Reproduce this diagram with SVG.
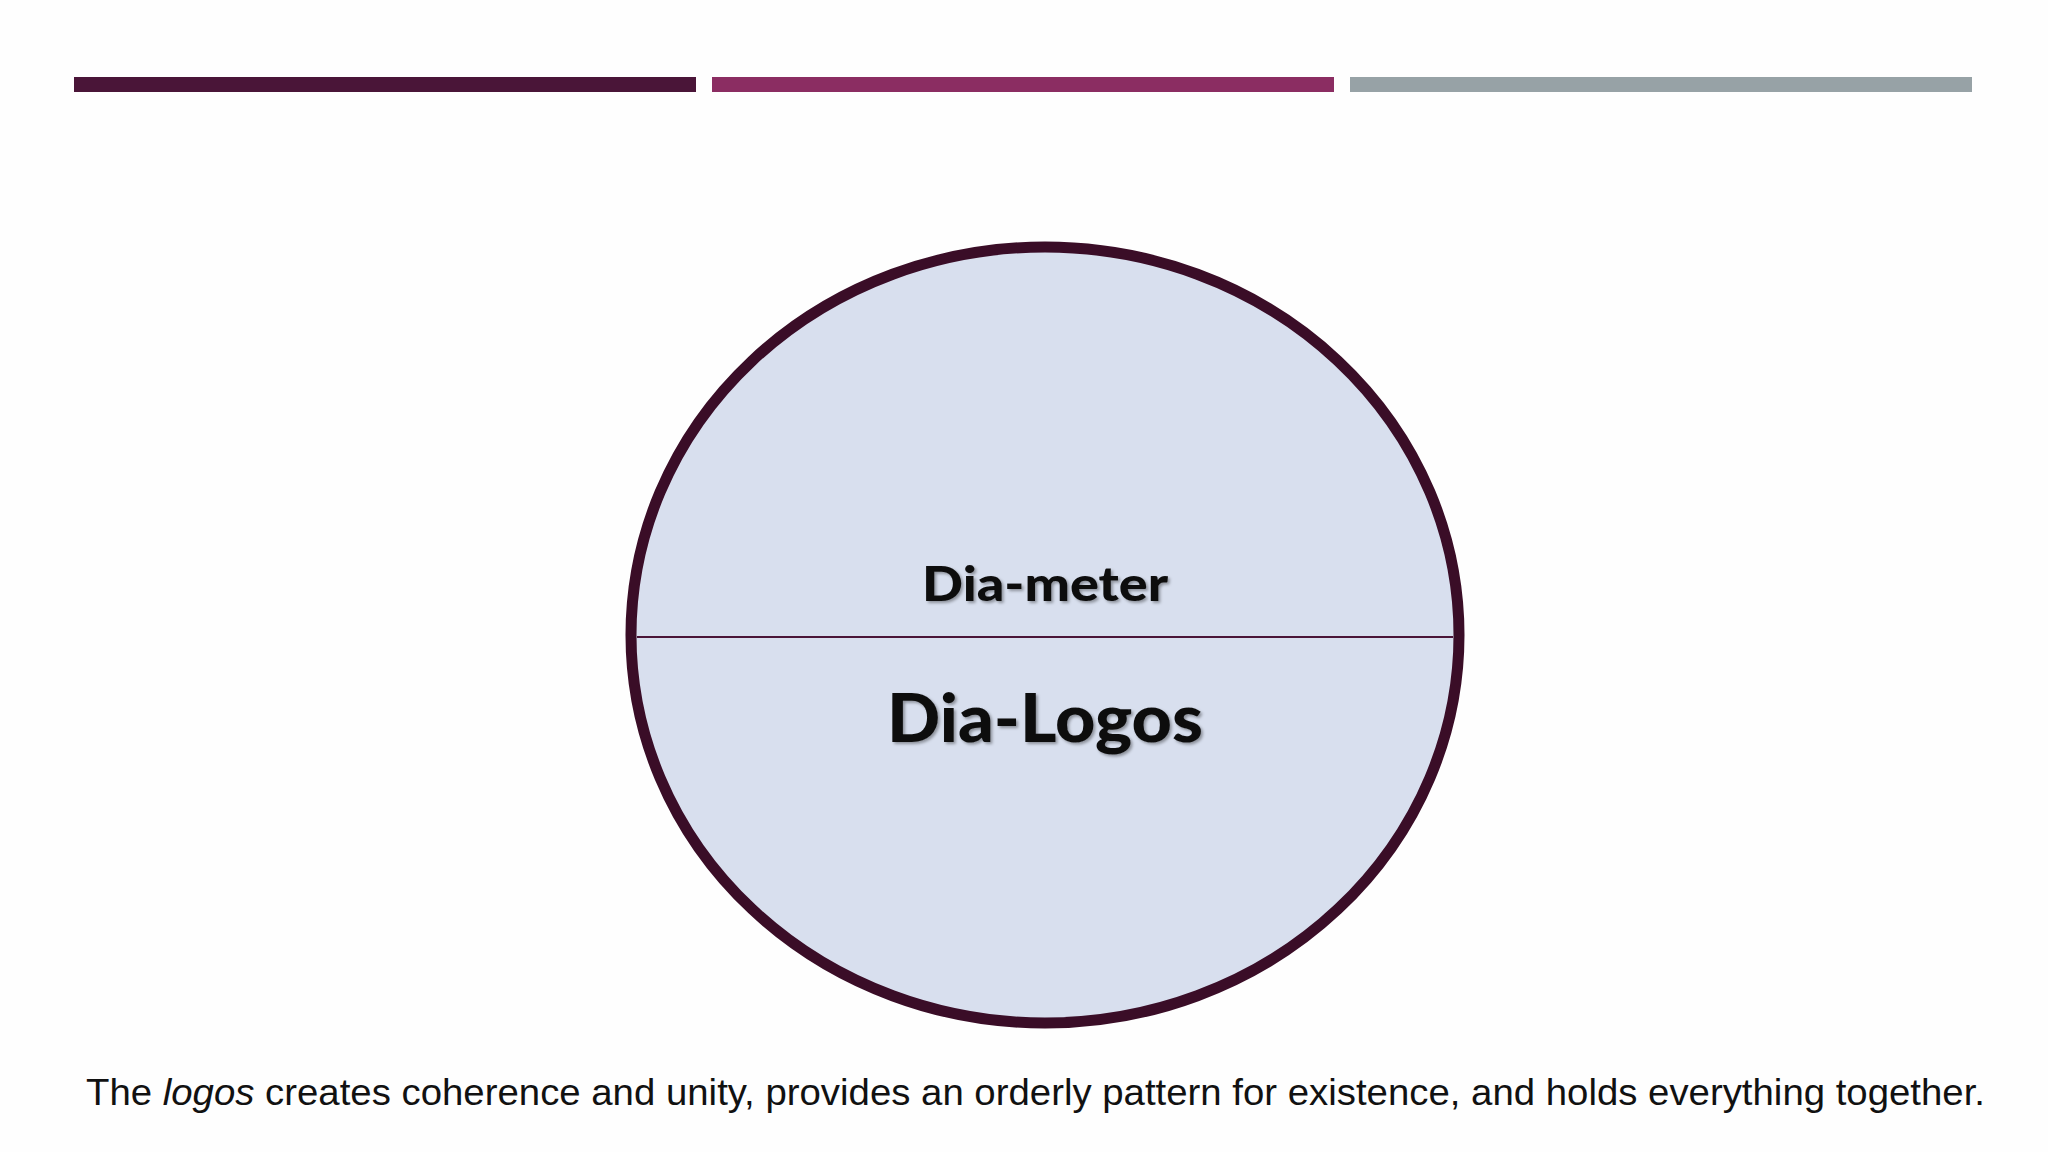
<svg xmlns="http://www.w3.org/2000/svg" width="2048" height="1152" viewBox="0 0 2048 1152">
<style>
.lbl{font-family:Lato,"Open Sans",sans-serif;font-weight:900;fill:#111;text-anchor:middle}
.cap{font-family:"Liberation Sans",Arial,sans-serif;font-size:37px;fill:#111}
</style>
<defs><filter id="sh"><feDropShadow dx="2" dy="2" stdDeviation="1.5" flood-color="#000" flood-opacity="0.35"/></filter></defs>
<rect width="2048" height="1152" fill="#fefefe"/>
<g id="bars">
<rect x="74" y="77" width="622" height="15" fill="#4a1538"/>
<rect x="712" y="77" width="622" height="15" fill="#8b2d62"/>
<rect x="1350" y="77" width="622" height="15" fill="#97a2a6"/>
</g>
<g id="circle">
<ellipse cx="1045" cy="635" rx="414" ry="388" fill="#d8dfee" stroke="#3a0d27" stroke-width="11"/>
<text class="lbl" x="1045" y="601" font-size="48" textLength="246" lengthAdjust="spacingAndGlyphs" filter="url(#sh)">Dia-meter</text>
<text class="lbl" x="1045" y="742" font-size="66" textLength="316" lengthAdjust="spacingAndGlyphs" filter="url(#sh)">Dia-Logos</text>
</g>
<g id="connectors">
<line x1="637" y1="637" x2="1453" y2="637" stroke="#4a1538" stroke-width="2"/>
</g>
<g id="caption">
<text class="cap" x="86" y="1105" textLength="1899" lengthAdjust="spacingAndGlyphs">The <tspan font-style="italic">logos</tspan> creates coherence and unity, provides an orderly pattern for existence, and holds everything together.</text>
</g>
</svg>
